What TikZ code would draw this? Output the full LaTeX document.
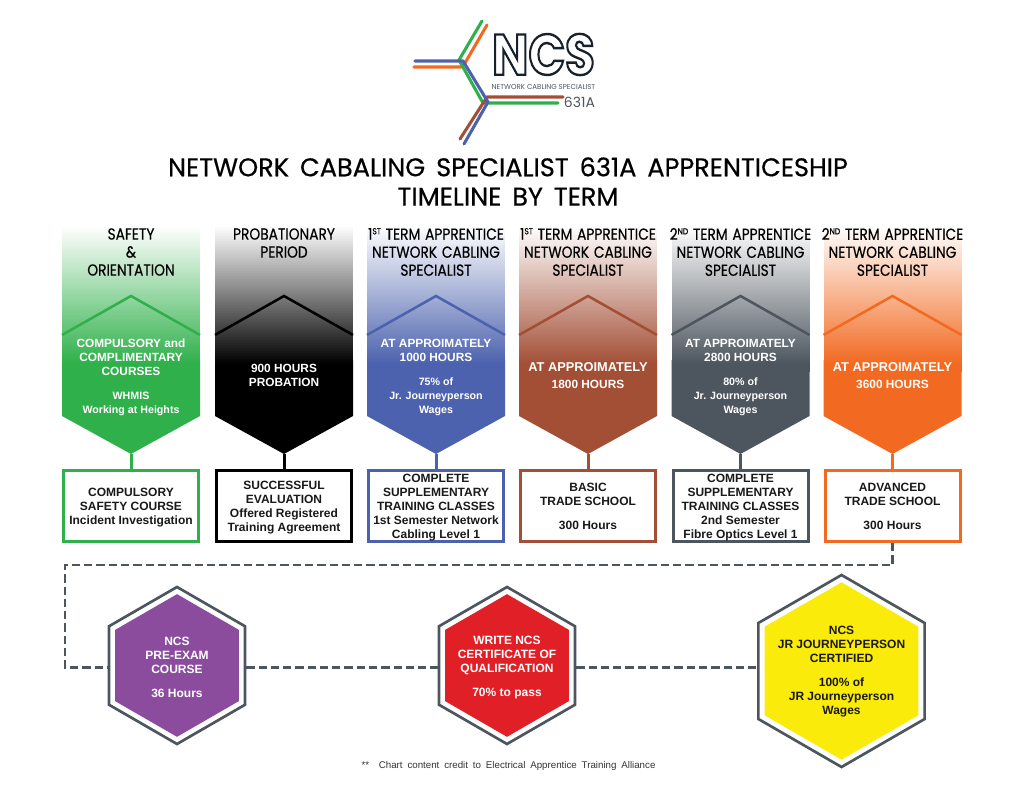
\documentclass[tikz,border=0pt]{standalone}
\usepackage{fontspec}
\usetikzlibrary{shapes.geometric}
\setmainfont{Liberation Sans}
\newfontfamily\hdfont[WordSpace=1.3,FakeStretch=0.86,FakeBold=0.35]{Poppins}
\newfontfamily\titlefont[WordSpace=1.6,FakeBold=0.5]{Poppins}
\newfontfamily\logofont{Poppins}
\newfontfamily\notefont[WordSpace=1.8]{Liberation Sans}
\definecolor{cgreen}{HTML}{2FB04A}
\definecolor{cblack}{HTML}{000000}
\definecolor{cblue}{HTML}{4C62AE}
\definecolor{cbrown}{HTML}{A34F36}
\definecolor{cslate}{HTML}{4D565F}
\definecolor{corange}{HTML}{F26A21}
\definecolor{cpurple}{HTML}{8B4C9E}
\definecolor{cred}{HTML}{E11F26}
\definecolor{cyellow}{HTML}{FAEB0A}
\definecolor{cink}{HTML}{17202B}
\newcommand{\sps}[1]{\raisebox{0.62ex}{\fontsize{6.5}{6.5}\selectfont #1}}
\newcommand{\bodyfont}{\fontsize{8.9}{10.5}\selectfont\bfseries}
\newcommand{\subfont}{\fontsize{8}{10.5}\selectfont\bfseries}
\tikzset{
  x=0.75pt,y=-0.75pt,
  headtext/.style={text=black,align=center,font=\hdfont\fontsize{12}{13.5}\selectfont,inner sep=0pt},
  hextext/.style={text=white,align=center,font=\bodyfont,inner sep=0pt},
  boxstyle/.style={draw=#1,line width=2.25pt,fill=white,minimum width=101.25pt,minimum height=53.5pt,inner sep=0pt},
  boxtext/.style={align=center,inner sep=0pt,font=\fontsize{9}{10.5}\selectfont\bfseries,text=black!90},
  link/.style={draw=#1,line width=2.25pt},
  dashlink/.style={draw=cslate,line width=1.9pt,dash pattern=on 6.2pt off 3pt},
  outerhex/.style={regular polygon,regular polygon sides=6,shape border rotate=30,draw=cslate,line width=2pt,fill=white,inner sep=0pt},
  innerhex/.style={regular polygon,regular polygon sides=6,shape border rotate=30,inner sep=0pt},
  lowtext/.style={align=center,inner sep=0pt,font=\fontsize{9}{10.5}\selectfont\bfseries},
  logoline/.style={line width=2.3pt,line cap=round,line join=round},
}
\newcommand{\column}[8]{%
  % #1 id, #2 centre x, #3 colour, #4 header, #5 hexagon text, #6 box text, #7 hexagon text y, #8 box text y
  \fill[#3] (#2-69,360) -- (#2+69,360) -- (#2+69,416) -- (#2,454) -- (#2-69,416) -- cycle;
  \foreach \yy in {225,227,...,365}{%
    \pgfmathsetmacro{\pct}{min(100,(\yy-225)/(363-225)*100)}%
    \fill[#3!\pct!white] (#2-69,\yy) rectangle (#2+69,372);
  }
  \draw[#3,line width=1.9pt,line join=miter] (#2-69,335) -- (#2,296) -- (#2+69,335);
  \node[headtext] (head#1) at (#2,252) {#4};
  \node[hextext] (hex#1) at (#2,#7) {#5};
  \coordinate (tip#1) at (#2,454);
  \node[boxstyle=#3] (box#1) at (#2,506) {};
  \node[boxtext] (boxtext#1) at (#2,#8) {#6};
  \draw[link=#3] (tip#1) -- (box#1.north);
}
\begin{document}
\begin{tikzpicture}
\useasboundingbox (0,0) rectangle (1024,791);
% logo
\coordinate (l1) at (415,61);\coordinate (l2) at (463,61);\coordinate (l3) at (488,102);\coordinate (l4) at (464,144);
\coordinate (g1) at (482,21);\coordinate (g2) at (459,60);\coordinate (g3) at (483,103);\coordinate (g4) at (558,103);
\coordinate (o1) at (487,25);\coordinate (o2) at (465,63);\coordinate (o3) at (461,67);\coordinate (o4) at (414,67);
\coordinate (r1) at (563,97);\coordinate (r2) at (487,97);\coordinate (r3) at (460,139);
\draw[logoline,corange] (o1) -- (o2) -- (o3) -- (o4);
\draw[logoline,cgreen] (g1) -- (g2) -- (g3) -- (g4);
\draw[logoline,cbrown] (r1) -- (r2) -- (r3);
\draw[logoline,cblue] (l1) -- (l2) -- (l3) -- (l4);
\node[inner sep=0pt,text=cink] (ncs) at (543.5,54.5) {\scalebox{0.84}[1]{\logofont\bfseries\fontsize{43}{43}\selectfont\special{pdf:code 1 Tr 1.8 w}NCS\special{pdf:code 0 Tr 1 w}}};
\node[inner sep=0pt,text=cslate] (ncsname) at (543.5,87.5) {\logofont\fontsize{5.3}{6}\selectfont NETWORK CABLING SPECIALIST};
\node[inner sep=0pt,text=cslate] (ncscode) at (579.5,102) {\logofont\fontsize{10.5}{11}\selectfont 631A};
% title
\node[inner sep=0pt,align=center,font=\titlefont\fontsize{19.2}{22}\selectfont] (title) at (508,181.5) {NETWORK CABALING SPECIALIST 631A APPRENTICESHIP\\TIMELINE BY TERM};
% columns
\column{1}{131}{cgreen}{SAFETY\\\&\\ORIENTATION}{COMPULSORY and\\COMPLIMENTARY\\COURSES\\[7.5pt]{\subfont WHMIS}\\{\subfont Working at Heights}}{COMPULSORY\\SAFETY COURSE\\Incident Investigation}{377}{508}
\column{2}{284}{cblack}{PROBATIONARY\\PERIOD\\\phantom{X}}{900 HOURS\\PROBATION}{SUCCESSFUL\\EVALUATION\\Offered Registered\\Training Agreement}{375}{508}
\column{3}{436}{cblue}{1\sps{ST} TERM APPRENTICE\\NETWORK CABLING\\SPECIALIST}{AT APPROIMATELY\\1000 HOURS\\[7.5pt]{\subfont 75\% of}\\{\subfont Jr. Journeyperson}\\{\subfont Wages}}{COMPLETE\\SUPPLEMENTARY\\TRAINING CLASSES\\1st Semester Network\\Cabling Level 1}{377}{508}
\column{4}{588}{cbrown}{1\sps{ST} TERM APPRENTICE\\NETWORK CABLING\\SPECIALIST}{\fontsize{9.6}{10.5}\selectfont AT APPROIMATELY\\[2.2pt]1800 HOURS}{BASIC\\TRADE SCHOOL\\[7.5pt]300 Hours}{376}{506}
\column{5}{740.5}{cslate}{2\sps{ND} TERM APPRENTICE\\NETWORK CABLING\\SPECIALIST}{AT APPROIMATELY\\2800 HOURS\\[7.5pt]{\subfont 80\% of}\\{\subfont Jr. Journeyperson}\\{\subfont Wages}}{COMPLETE\\SUPPLEMENTARY\\TRAINING CLASSES\\2nd Semester\\Fibre Optics Level 1}{377}{508}
\column{6}{892.5}{corange}{2\sps{ND} TERM APPRENTICE\\NETWORK CABLING\\SPECIALIST}{\fontsize{9.6}{10.5}\selectfont AT APPROIMATELY\\[2.2pt]3600 HOURS}{ADVANCED\\TRADE SCHOOL\\[7.5pt]300 Hours}{376}{506}
% lower hexagons
\node[outerhex,minimum size=117.75pt] (pre) at (177,665.5) {};
\node[innerhex,minimum size=107pt,fill=cpurple] (prefill) at (177,665.5) {};
\node[lowtext,text=white] (pretext) at (177,667.5) {NCS\\PRE-EXAM\\COURSE\\[7.5pt]36 Hours};
\node[outerhex,minimum size=117.75pt] (cert) at (507,665.5) {};
\node[innerhex,minimum size=107pt,fill=cred] (certfill) at (507,665.5) {};
\node[lowtext,text=white] (certtext) at (507,667.5) {WRITE NCS\\CERTIFICATE OF\\QUALIFICATION\\[7.5pt]70\% to pass};
\node[outerhex,minimum size=144pt] (jr) at (841.5,671) {};
\node[innerhex,minimum size=133pt,fill=cyellow] (jrfill) at (841.5,671) {};
\node[lowtext,text=black!90] (jrtext) at (841.5,671.5) {NCS\\JR JOURNEYPERSON\\CERTIFIED\\[7.5pt]100\% of\\JR Journeyperson\\Wages};
% dashed connectors
\coordinate (turn) at (65,565);
\coordinate (rail) at (65,667.5);
\draw[dashlink] (box6.south) -- (box6.south |- turn) -- (turn) -- (rail) -- (rail -| pre.180);
\draw[dashlink] (rail -| pre.0) -- (rail -| cert.180);
\draw[dashlink] (rail -| cert.0) -- (rail -| jr.180);
% footnote
\node[inner sep=0pt,text=black!80,font=\notefont\fontsize{7.3}{8}\selectfont] (credit) at (508.5,766) {**\ \ Chart content credit to Electrical Apprentice Training Alliance};
\end{tikzpicture}
\end{document}
